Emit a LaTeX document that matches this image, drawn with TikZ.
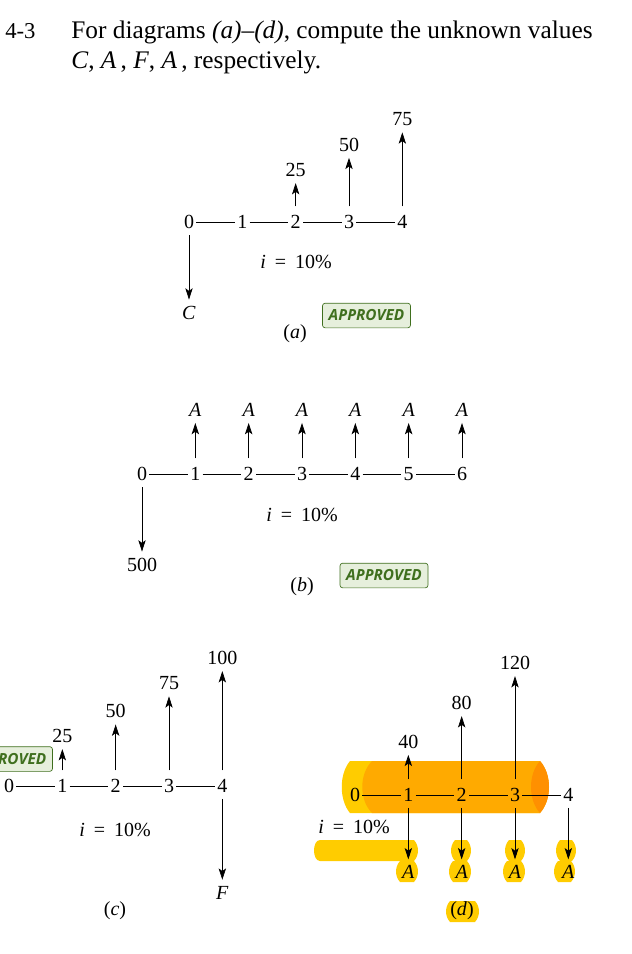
\documentclass[tikz,border=0pt]{standalone}
\usepackage{fontspec}
\setmainfont{Liberation Serif}
\newfontfamily\stampfont{Open Sans}
\usepackage{xcolor}
\usepackage{tikz}
\usetikzlibrary{arrows.meta,positioning}

\definecolor{hlyellow}{HTML}{FFCC00}
\definecolor{hlorange}{HTML}{FFAA00}
\definecolor{hldark}{HTML}{FF9000}
\definecolor{stampgreen}{HTML}{3F6F1E}
\definecolor{stampfill}{HTML}{E6EFDC}

\tikzset{
  tick/.style={font=\fontsize{15}{15}\selectfont,inner xsep=1.5pt,inner ysep=4.5pt},
  val/.style={tick},
  plain/.style={-},
  up/.style={shorten <=2pt},
  rate/.style={font=\fontsize{15}{15}\selectfont},
  title/.style={font=\fontsize{19}{19}\selectfont,anchor=base west,inner sep=0pt},
  stamp/.style={draw=stampgreen,fill=stampfill,rounded corners=2pt,line width=.5pt,
    text=stampgreen,font=\stampfont\fontsize{11.5}{11.5}\selectfont\bfseries\itshape,
    minimum width=66pt,minimum height=18.5pt,inner sep=0pt}
}
% yellow marker blob, x1 y1 x2 y2
\newcommand{\hlblob}[4]{
  \fill[hlyellow] (#1+4,#2) -- (#3-4,#2) .. controls (#3+1.3,#2+6) and (#3+1.3,#4-6) .. (#3-4,#4)
    -- (#1+4,#4) .. controls (#1-1.3,#4-6) and (#1-1.3,#2+6) .. (#1+4,#2) -- cycle;
}
\newcommand{\ratetext}{\textit{i}\hspace{.45em}=\hspace{.45em}10\%}

\begin{document}
\begin{tikzpicture}[x=.75pt,y=-.75pt,->,>={Stealth[length=8.5pt,width=5.5pt,inset=2pt]},auto,node distance=40pt,line width=.55pt]

\clip (0,0) rectangle (632,954);
\useasboundingbox (0,0) rectangle (632,954);

% highlights of (d)
\fill[hlyellow] (350,761) -- (540,761) -- (540,813) -- (350,813)
  .. controls (339,800) and (339,774) .. (350,761) -- cycle;
\fill[hlorange] (372,761) -- (540,761) .. controls (552,774) and (552,800) .. (540,813)
  -- (372,813) .. controls (359,800) and (359,774) .. (372,761) -- cycle;
\fill[hldark] (540,761) .. controls (552,774) and (552,800) .. (540,813)
  .. controls (528,800) and (528,774) .. (540,761) -- cycle;
\fill[hlyellow] (320,840) -- (410,840) -- (410,861) -- (320,861)
  .. controls (312,861) and (312,840) .. (320,840) -- cycle;
\hlblob{396}{840}{418}{861}
\hlblob{396}{861}{418}{882}
\hlblob{451}{840}{471}{861}
\hlblob{449}{861}{471}{882}
\hlblob{505}{840}{525}{861}
\hlblob{503}{861}{525}{882}
\hlblob{556}{840}{576}{861}
\hlblob{554}{861}{575}{882}
\hlblob{446}{901}{479}{922}

% problem text
\node[title,font=\fontsize{17}{17}\selectfont] (num) at (5,38) {4-3};
\node[title] (line1) at (71,38) {For diagrams \textit{(a)}–\textit{(d)}, compute the unknown values};
\node[title] (line2) at (71,68) {\textit{C}, \textit{A}\,, \textit{F}, \textit{A}\,, respectively.};

% diagram (a)
\node[tick] (a_0) at (189,222) {0};
\node[tick] (a_1) [right of=a_0] {1};
\node[tick] (a_2) [right of=a_1] {2};
\node[tick] (a_3) [right of=a_2] {3};
\node[tick] (a_4) [right of=a_3] {4};
\node[val] (a_25) [above of=a_2,node distance=39pt] {25};
\node[val] (a_50) [above of=a_3,node distance=58pt] {50};
\node[val] (a_75) [above of=a_4,node distance=77pt] {75};
\node[val] (a_C) [below of=a_0,node distance=68pt] {\textit{C}};
\node[rate] (a_i) at (296,262) {\ratetext};
\node[rate] (a_name) at (295,334) {(\textit{a})};
\node[stamp] (a_stamp) at (366.5,315.5) {APPROVED};

\path
  (a_0) edge [plain] (a_1)
  (a_1) edge [plain] (a_2)
  (a_2) edge [plain] (a_3)
  (a_3) edge [plain] (a_4)

  (a_2) edge [up] (a_25)
  (a_3) edge [up] (a_50)
  (a_4) edge [up] (a_75)

  (a_0) edge (a_C)
;

% diagram (b)
\node[tick] (b_0) at (142,474) {0};
\node[tick] (b_1) [right of=b_0] {1};
\node[tick] (b_2) [right of=b_1] {2};
\node[tick] (b_3) [right of=b_2] {3};
\node[tick] (b_4) [right of=b_3] {4};
\node[tick] (b_5) [right of=b_4] {5};
\node[tick] (b_6) [right of=b_5] {6};
\foreach \k in {1,...,6}{
  \node[val] (b_A\k) [above of=b_\k,node distance=48pt] {\textit{A}};
  \draw[up] (b_\k) -- (b_A\k);
}
\node[val] (b_500) [below of=b_0,node distance=68pt] {500};
\node[rate] (b_i) at (302,515) {\ratetext};
\node[rate] (b_name) at (302,587) {(\textit{b})};
\node[stamp] (b_stamp) at (384,575.5) {APPROVED};

\path
  (b_0) edge [plain] (b_1)
  (b_1) edge [plain] (b_2)
  (b_2) edge [plain] (b_3)
  (b_3) edge [plain] (b_4)
  (b_4) edge [plain] (b_5)
  (b_5) edge [plain] (b_6)

  (b_0) edge (b_500)
;

% diagram (c)
\node[stamp] (c_stamp) at (8.5,759) {APPROVED};
\node[tick] (c_0) at (9,786) {0};
\node[tick] (c_1) [right of=c_0] {1};
\node[tick] (c_2) [right of=c_1] {2};
\node[tick] (c_3) [right of=c_2] {3};
\node[tick] (c_4) [right of=c_3] {4};
\node[val] (c_25) [above of=c_1,node distance=37.5pt] {25};
\node[val] (c_50) [above of=c_2,node distance=56pt] {50};
\node[val] (c_75) [above of=c_3,node distance=77pt] {75};
\node[val] (c_100) [above of=c_4,node distance=96pt] {100};
\node[val] (c_F) [below of=c_4,node distance=80pt] {\textit{F}};
\node[rate] (c_i) at (115,830) {\ratetext};
\node[rate] (c_name) at (115,911) {(\textit{c})};

\path
  (c_0) edge [plain] (c_1)
  (c_1) edge [plain] (c_2)
  (c_2) edge [plain] (c_3)
  (c_3) edge [plain] (c_4)

  (c_1) edge [up] (c_25)
  (c_2) edge [up] (c_50)
  (c_3) edge [up] (c_75)
  (c_4) edge [up] (c_100)

  (c_4) edge (c_F)
;

% diagram (d)
\node[tick] (d_0) at (355,795) {0};
\node[tick] (d_1) [right of=d_0] {1};
\node[tick] (d_2) [right of=d_1] {2};
\node[tick] (d_3) [right of=d_2] {3};
\node[tick] (d_4) [right of=d_3] {4};
\node[val] (d_40) [above of=d_1,node distance=40pt] {40};
\node[val] (d_80) [above of=d_2,node distance=69pt] {80};
\node[val] (d_120) [above of=d_3,node distance=99pt] {120};
\foreach \k in {1,...,4}{
  \node[val] (d_A\k) [below of=d_\k,node distance=58pt] {\textit{A}};
  \draw (d_\k) -- (d_A\k);
}
\node[rate] (d_i) at (354,827) {\ratetext};
\node[rate] (d_name) at (462,911) {(\textit{d})};

\path
  (d_0) edge [plain] (d_1)
  (d_1) edge [plain] (d_2)
  (d_2) edge [plain] (d_3)
  (d_3) edge [plain] (d_4)

  (d_1) edge [up] (d_40)
  (d_2) edge [up] (d_80)
  (d_3) edge [up] (d_120)
;
\end{tikzpicture}
\end{document}
